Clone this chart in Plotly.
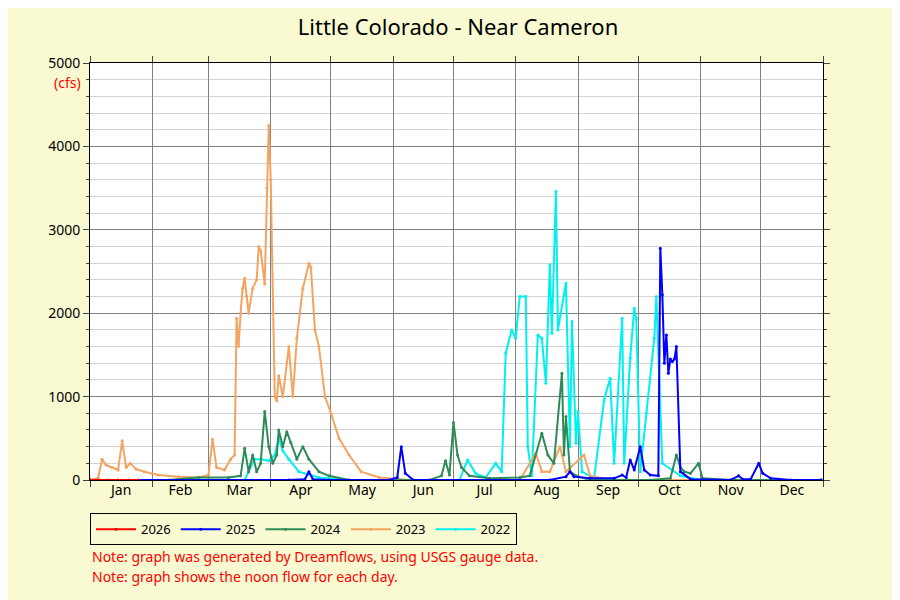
import plotly.graph_objects as go

# day-of-year / cfs points
d2026 = [1, 5, 10, 15, 20, 25]
q2026 = [0, 0, 0, 0, 0, 0]

d2025 = [1, 100, 108, 110, 112, 120, 150, 154, 156, 158, 162, 200, 230, 238, 240, 242, 250, 262, 266, 268,
         270, 272, 275, 277, 280, 284, 285, 286, 287, 288, 289, 290, 291, 292, 293, 295, 300, 320, 324, 326,
         330, 334, 336, 340, 350, 365]
q2025 = [0, 0, 10, 100, 10, 0, 0, 30, 400, 80, 0, 0, 0, 40, 100, 40, 20, 20, 60, 30,
         240, 120, 400, 120, 60, 50, 2780, 2220, 1400, 1740, 1280, 1450, 1420, 1450, 1600, 100, 10, 0, 50, 10,
         10, 200, 80, 20, 0, 0]

d2024 = [1, 40, 55, 70, 76, 78, 80, 82, 84, 86, 88, 90, 92, 94, 95, 97, 99, 101, 104, 107,
         110, 115, 120, 130, 170, 176, 178, 180, 182, 184, 186, 190, 200, 215, 220, 226, 229, 232, 236, 237,
         238, 240, 243, 250, 280, 290, 293, 295, 297, 300, 304, 306, 320, 365]
q2024 = [0, 0, 30, 30, 50, 380, 100, 300, 100, 200, 820, 400, 200, 300, 600, 400, 580, 450, 250, 400,
         250, 100, 50, 0, 0, 50, 230, 60, 690, 300, 150, 50, 20, 30, 50, 560, 300, 200, 1280, 300,
         760, 100, 50, 0, 0, 20, 300, 150, 100, 80, 200, 20, 0, 0]

d2023 = [1, 5, 7, 9, 12, 15, 17, 19, 21, 24, 28, 35, 45, 55, 60, 62, 64, 68, 71, 73,
         74, 75, 76, 77, 78, 79, 80, 82, 84, 85, 86, 88, 89, 90, 91, 93, 94, 95, 97, 100,
         102, 104, 107, 110, 111, 113, 115, 118, 121, 125, 130, 136, 145, 160, 215, 223, 226, 230, 235, 238,
         247, 250, 260, 365]
q2023 = [0, 20, 250, 180, 150, 120, 470, 150, 200, 130, 100, 60, 40, 30, 60, 490, 150, 120, 250, 300,
         1940, 1600, 2000, 2300, 2420, 2200, 2000, 2300, 2400, 2800, 2750, 2350, 3500, 4250, 3600, 1000, 950, 1250, 1000, 1600,
         1000, 1700, 2300, 2600, 2550, 1800, 1600, 1000, 800, 500, 300, 100, 30, 0, 0, 320, 100, 100, 400, 100,
         300, 50, 0, 0]

d2022 = [1, 60, 78, 80, 83, 86, 90, 93, 95, 97, 100, 105, 115, 130, 185, 189, 193, 198, 203, 206,
         208, 211, 213, 215, 218, 219, 221, 224, 226, 228, 230, 231, 233, 234, 238, 240, 241, 243, 244, 246,
         252, 257, 260, 262, 266, 267, 270, 272, 273, 275, 278, 282, 283, 286, 295, 305, 365]
q2022 = [0, 0, 0, 100, 250, 250, 230, 300, 500, 350, 250, 100, 30, 0, 0, 240, 80, 30, 200, 100,
         1520, 1800, 1700, 2200, 2200, 400, 50, 1740, 1700, 1160, 2580, 1760, 3460, 1800, 2360, 400, 1900, 440, 820, 100,
         20, 960, 1220, 200, 1940, 200, 1460, 2060, 1940, 100, 800, 1700, 2200, 200, 50, 0, 0]

series = [("2022", d2022, q2022, "#00f0f0"), ("2023", d2023, q2023, "#f4a460"),
          ("2024", d2024, q2024, "#2e8b57"), ("2025", d2025, q2025, "#0000ff"),
          ("2026", d2026, q2026, "#ff0000")]

month_starts = [1, 32, 60, 91, 121, 152, 182, 213, 244, 274, 305, 335, 366]
month_names = ["Jan", "Feb", "Mar", "Apr", "May", "Jun", "Jul", "Aug", "Sep", "Oct", "Nov", "Dec"]
month_mids = [(a + b) / 2 for a, b in zip(month_starts[:-1], month_starts[1:])]

fig = go.Figure()
for name, d, q, c in series:
    fig.add_trace(go.Scatter(x=d, y=q, name=name, mode="lines+markers",
                             line=dict(color=c, width=2), marker=dict(color=c, size=3)))
# invisible trace to carry month labels on the second x axis
fig.add_trace(go.Scatter(x=month_mids, y=[0] * 12, xaxis="x2", mode="markers",
                         marker=dict(opacity=0), showlegend=False, hoverinfo="skip"))

fig.update_layout(
    width=900, height=600,
    paper_bgcolor="#fafad2", plot_bgcolor="white",
    font=dict(family="Noto Sans", size=14, color="black"),
    title=dict(text="Little Colorado - Near Cameron", x=0.5, y=0.98, font=dict(size=22)),
    margin=dict(l=82, r=85, t=55, b=128),
    xaxis=dict(range=[1, 366], tickvals=month_starts, ticktext=[""] * 13, showgrid=True,
               gridcolor="#808080", ticks="outside", ticklen=6, showline=True, linecolor="black",
               mirror="ticks", zeroline=False),
    xaxis2=dict(range=[1, 366], overlaying="x", side="bottom", tickvals=month_mids,
                ticktext=month_names, showgrid=False, ticks="", zeroline=False, showline=False),
    yaxis=dict(range=[0, 5000], dtick=1000, gridcolor="#808080", ticks="outside", ticklen=6,
               showline=True, linecolor="black", mirror="ticks", zeroline=False,
               minor=dict(dtick=200, showgrid=True, gridcolor="#d3d3d3", ticks="outside", ticklen=3)),
    legend=dict(orientation="h", x=0, xanchor="left", y=-0.08, yanchor="top",
                traceorder="reversed", bordercolor="black", borderwidth=1, bgcolor="#fafad2",
                itemwidth=40, tracegroupgap=0, font=dict(size=13)),
    annotations=[
        dict(text="(cfs)", x=-0.01, xanchor="right", y=0.98, xref="paper", yref="paper",
             showarrow=False, font=dict(color="red", size=14)),
        dict(text="Note: graph was generated by Dreamflows, using USGS gauge data.", x=0, xanchor="left",
             y=-0.155, yanchor="top", xref="paper", yref="paper", showarrow=False,
             font=dict(color="red", size=14)),
        dict(text="Note: graph shows the noon flow for each day.", x=0, xanchor="left",
             y=-0.205, yanchor="top", xref="paper", yref="paper", showarrow=False,
             font=dict(color="red", size=14)),
    ],
)
fig.write_html("out.html")
